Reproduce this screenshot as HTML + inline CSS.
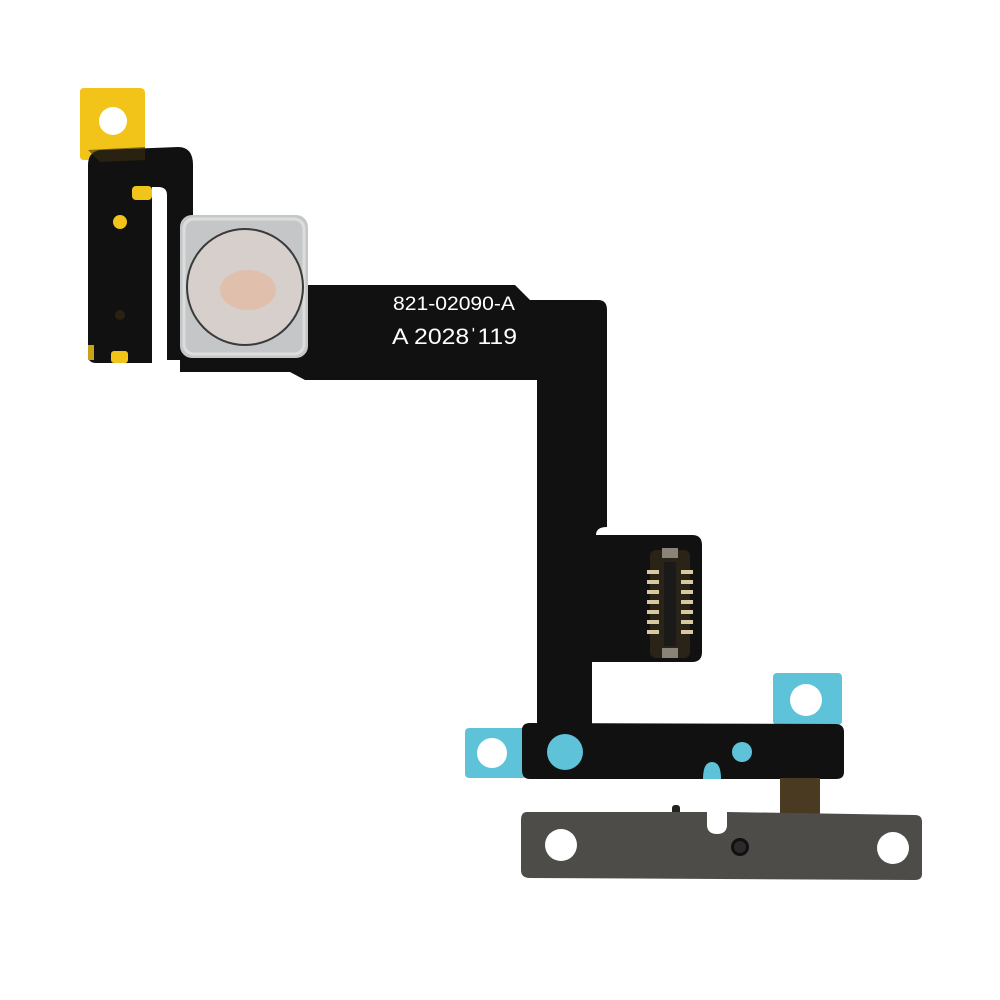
<!DOCTYPE html>
<html><head><style>html,body{margin:0;padding:0;background:#fff;width:1000px;height:1000px;overflow:hidden}</style></head>
<body>
<svg width="1000" height="1000" viewBox="0 0 1000 1000" xmlns="http://www.w3.org/2000/svg">
<rect width="1000" height="1000" fill="#fff"/>
<path d="M80 92 Q80 88 84 88 L140 88 Q145 88 145 93 L145 160 L84 160 Q80 160 80 156 Z" fill="#f2c318"/>
<circle cx="113" cy="121" r="14" fill="#fff"/>
<path d="M100 150 L178 147 Q193 147 193 165 L193 360 L167 360 L167 195 Q167 187 158 187 L152 187 L152 363 L96 363 Q88 363 88 355 L88 165 Q88 152 100 150 Z" fill="#111"/>
<path d="M88 150 L145 147 L145 160 L100 162 Z" fill="#3a2f10" opacity="0.6"/>
<rect x="132" y="186" width="20" height="14" rx="4" fill="#f2c318"/>
<circle cx="120" cy="222" r="7" fill="#f2c318"/>
<circle cx="120" cy="315" r="5" fill="#2a2112"/>
<rect x="111" y="351" width="17" height="12" rx="3" fill="#f2c318"/>
<rect x="88" y="345" width="6" height="15" fill="#c9a21a"/>
<path d="M180 285 L515 285 L530 300 L598 300 Q607 300 607 310 L607 527 Q596 527 596 535 L692 535 Q702 535 702 545 L702 652 Q702 662 692 662 L592 662 L592 725 L537 725 L537 380 L305 380 L290 372 L180 372 Z" fill="#111"/>
<rect x="180" y="215" width="128" height="143" rx="12" fill="#c4c6c7"/>
<rect x="184" y="219" width="120" height="135" rx="10" fill="none" stroke="#dcdede" stroke-width="3"/>
<circle cx="245" cy="287" r="59" fill="#3a3a3a"/>
<circle cx="245" cy="287" r="57" fill="#d6cfcb"/>
<ellipse cx="248" cy="290" rx="28" ry="20" fill="#e4b9a0" opacity="0.7"/>
<text x="393" y="310" font-family="Liberation Sans, sans-serif" font-size="19" fill="#fff" textLength="122" lengthAdjust="spacingAndGlyphs">821-02090-A</text>
<text x="392" y="344" font-family="Liberation Sans, sans-serif" font-size="22" fill="#fff" textLength="125" lengthAdjust="spacingAndGlyphs">A 2028ˈ119</text>
<rect x="650" y="550" width="40" height="108" rx="6" fill="#2a2418"/>
<g fill="#d8c9a0">
<rect x="647" y="570" width="12" height="4"/><rect x="647" y="580" width="12" height="4"/><rect x="647" y="590" width="12" height="4"/><rect x="647" y="600" width="12" height="4"/><rect x="647" y="610" width="12" height="4"/><rect x="647" y="620" width="12" height="4"/><rect x="647" y="630" width="12" height="4"/>
<rect x="681" y="570" width="12" height="4"/><rect x="681" y="580" width="12" height="4"/><rect x="681" y="590" width="12" height="4"/><rect x="681" y="600" width="12" height="4"/><rect x="681" y="610" width="12" height="4"/><rect x="681" y="620" width="12" height="4"/><rect x="681" y="630" width="12" height="4"/>
</g>
<rect x="664" y="562" width="12" height="84" fill="#1a1a1a"/>
<rect x="662" y="548" width="16" height="10" fill="#8a8478"/>
<rect x="662" y="648" width="16" height="10" fill="#8a8478"/>
<rect x="465" y="728" width="62" height="50" rx="4" fill="#5ec3d9"/>
<circle cx="492" cy="753" r="15" fill="#fff"/>
<rect x="773" y="673" width="69" height="52" rx="4" fill="#5ec3d9"/>
<circle cx="806" cy="700" r="16" fill="#fff"/>
<path d="M522 730 Q522 723 530 723 L835 724 Q844 724 844 732 L844 772 Q844 779 836 779 L530 779 Q522 779 522 770 Z" fill="#111"/>
<circle cx="565" cy="752" r="18" fill="#5ec3d9"/>
<circle cx="742" cy="752" r="10" fill="#5ec3d9"/>
<path d="M703 779 Q703 762 712 762 Q721 762 721 779 Z" fill="#5ec3d9"/>
<rect x="780" y="778" width="40" height="38" fill="#4a3a22"/>
<rect x="672" y="805" width="8" height="12" rx="3" fill="#222"/>
<path d="M527 812 L707 812 L707 826 Q708 834 717 834 Q726 834 727 826 L727 812 L915 815 Q922 815 922 822 L922 874 Q922 880 915 880 L530 878 Q521 878 521 870 L521 820 Q521 812 527 812 Z" fill="#4e4c49"/>
<circle cx="561" cy="845" r="16" fill="#fff"/>
<circle cx="893" cy="848" r="16" fill="#fff"/>
<circle cx="740" cy="847" r="9" fill="#111"/>
<circle cx="740" cy="847" r="6" fill="#2b2b2b"/>
</svg>
</body></html>
